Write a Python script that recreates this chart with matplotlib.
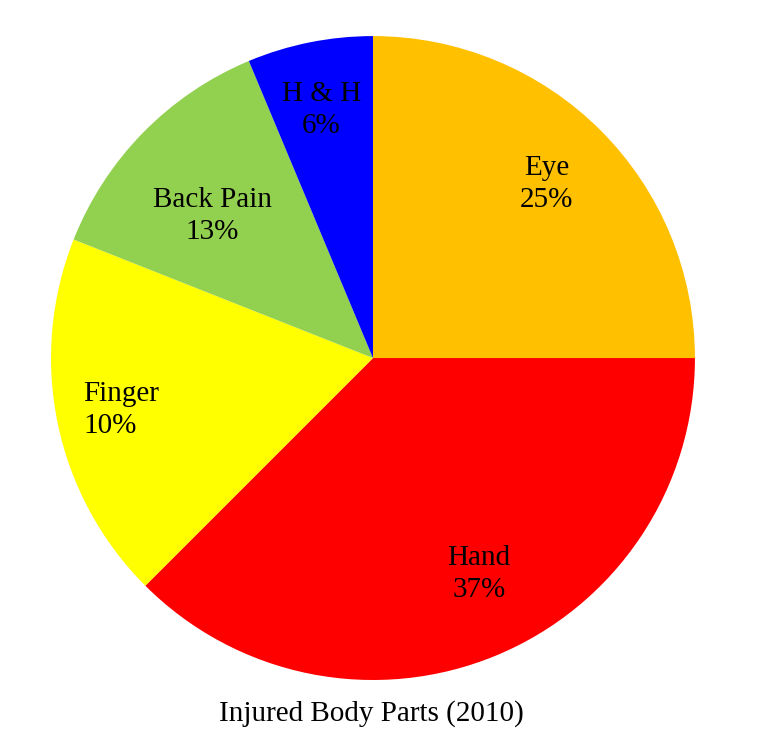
import matplotlib
matplotlib.use("Agg")
import matplotlib.pyplot as plt

categories = ["Eye", "Hand", "Finger", "Back Pain", "H & H"]
label_pcts = ["25%", "37%", "10%", "13%", "6%"]
sizes = [25.0, 37.5, 18.5, 12.7, 6.3]  # slice sizes as drawn
colors = ["#FFC000", "#FF0000", "#FFFF00", "#92D050", "#0000FF"]

plt.rcParams['font.family'] = ['Liberation Serif', 'DejaVu Serif']
fig = plt.figure(figsize=(7.68, 7.47), dpi=100)
ax = fig.add_axes([0.0664, 0.0897, 0.8385, 0.862])
labels = [f"{c}\n{p}" for c, p in zip(categories, label_pcts)]
wedges, texts = ax.pie(sizes, colors=colors, startangle=90, counterclock=False,
                       labels=labels, labeldistance=0.74,
                       textprops=dict(fontsize=21, ha='center', va='center', linespacing=1.3),
                       wedgeprops=dict(linewidth=0))
texts[2].set_horizontalalignment('left')
texts[2].set_position((-0.9, -0.16))
texts[3].set_position((-0.5, 0.44))
texts[4].set_position((-0.16, 0.77))
texts[0].set_position((0.54, 0.54))
texts[1].set_position((0.33, -0.67))
ax.set_xlim(-1, 1)
ax.set_ylim(-1, 1)
ax.set_aspect('equal')
ax.axis('off')
fig.text(0.483, 0.045, "Injured Body Parts (2010)", ha='center', va='center', fontsize=21)
fig.savefig("out.png", dpi=100, facecolor='white')
